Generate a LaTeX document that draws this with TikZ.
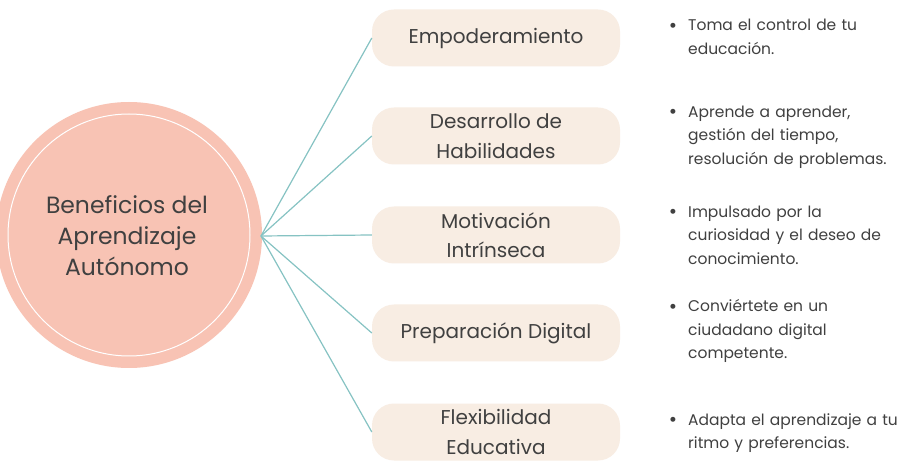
\documentclass[tikz,border=0pt]{standalone}
\usepackage{fontspec}
\setmainfont{Poppins}
\definecolor{circfill}{HTML}{F8C3B4}
\definecolor{boxfill}{HTML}{F8EDE3}
\definecolor{linkcol}{HTML}{86C3C3}
\definecolor{txt}{HTML}{404040}
\begin{document}
\begin{tikzpicture}[x=1pt,y=-1pt,
  benefit/.style={draw=none,fill=boxfill,rounded corners=22pt,minimum width=248pt,minimum height=57pt,align=center,text=txt,font=\fontsize{20}{29.5}\selectfont,inner sep=0pt},
  detail/.style={anchor=west,text width=215pt,align=left,text=txt,font=\fontsize{15.5}{23.5}\selectfont,inner sep=0pt},
  link/.style={draw=linkcol,line width=1.2pt}]
\useasboundingbox (0,0) rectangle (900,470);
\fill[white] (0,0) rectangle (900,470);
\node[circle,fill=circfill,minimum size=266pt,inner sep=0pt] (hubc) at (129,235) {};
\draw[white,line width=1pt] (hubc.center) circle[radius=121pt];
\node[align=center,text=txt,font=\fontsize{23.5}{31}\selectfont] (title) at (127,236) {Beneficios del\\Aprendizaje\\Autónomo};
\coordinate (hub) at (261,236);
\node[benefit] (b1) at (496,38) {Empoderamiento};
\node[benefit] (b2) at (496,136) {Desarrollo de\\Habilidades};
\node[benefit] (b3) at (496,235) {Motivación\\Intrínseca};
\node[benefit] (b4) at (496,333) {Preparación Digital};
\node[benefit] (b5) at (496,432) {Flexibilidad\\Educativa};
\foreach \i in {1,...,5} \draw[link] (hub) -- (b\i.west);
\newcommand{\bul}{\leavevmode\llap{\raisebox{-1.6pt}{\scalebox{1.3}{•}}\hspace{11pt}}}
\node[detail] (d1) at (688,37) {\bul Toma el control de tu\\educación.};
\node[detail] (d2) at (688,137) {\bul Aprende a aprender,\\gestión del tiempo,\\resolución de problemas.};
\node[detail] (d3) at (688,235) {\bul Impulsado por la\\curiosidad y el deseo de\\conocimiento.};
\node[detail] (d4) at (688,331) {\bul Conviértete en un\\ciudadano digital\\competente.};
\node[detail] (d5) at (688,433) {\bul Adapta el aprendizaje a tu\\ritmo y preferencias.};
\end{tikzpicture}
\end{document}
